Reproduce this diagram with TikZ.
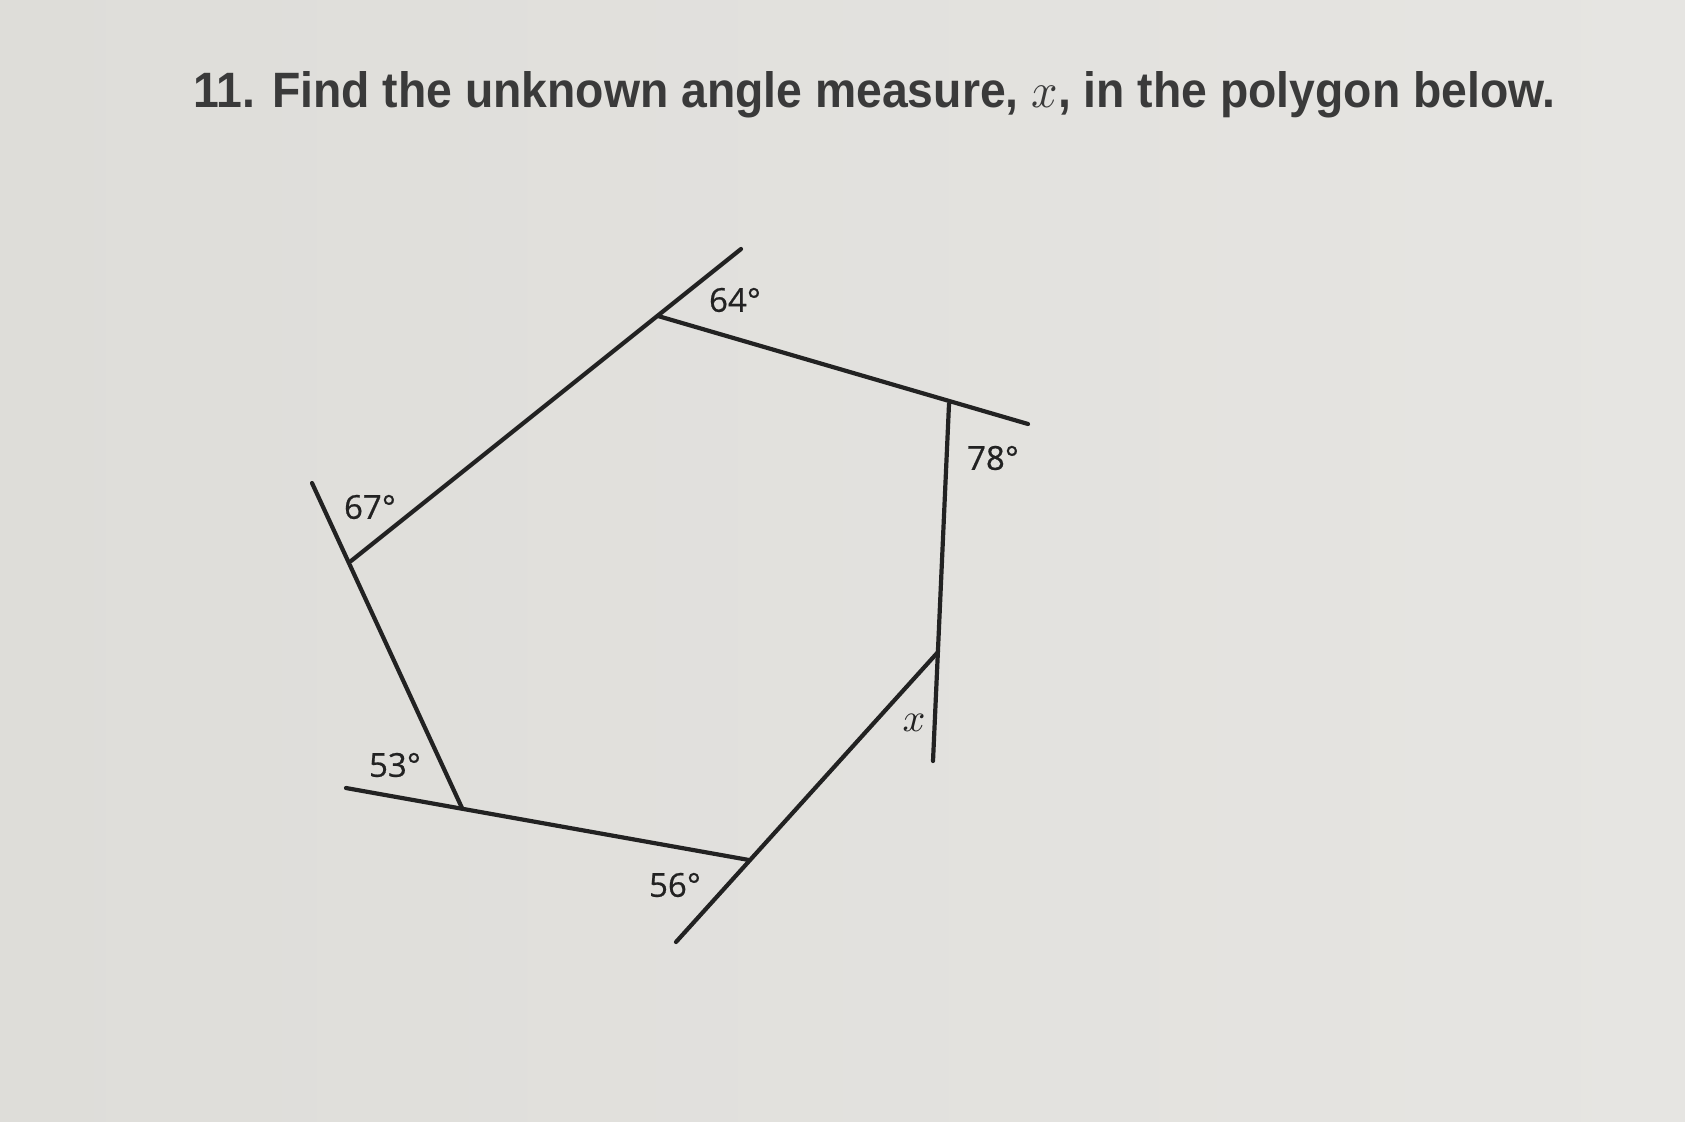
\documentclass[tikz,border=0pt]{standalone}
\usepackage{fontspec}
\setmainfont{Liberation Sans}
\newfontfamily\labfont[FakeBold=0.6]{Open Sans}
\usepackage{graphicx}
\definecolor{paper}{RGB}{222,221,217}
\definecolor{paperlight}{RGB}{230,229,226}
\definecolor{ink}{RGB}{34,34,34}
\definecolor{titleink}{RGB}{58,58,58}
\tikzset{
  side/.style={draw=ink, line width=4.2pt, line cap=round},
  anglab/.style={text=ink, font=\labfont\fontsize{33}{35}\selectfont, inner sep=0pt},
}
\begin{document}
\begin{tikzpicture}[x=1pt,y=-1pt]
\useasboundingbox (0,0) rectangle (1685,1121);
\shade[left color=paper, right color=paperlight] (0,0) rectangle (1685,1121);
% title
\node[anchor=base west, inner sep=0pt, text=titleink] (title) at (193,107)
  {\resizebox{1362pt}{36pt}{\bfseries 11. Find the unknown angle measure, $x$, in the polygon below.}};
% vertices
\coordinate (A) at (658,316);
\coordinate (B) at (949,404);
\coordinate (C) at (938,652);
\coordinate (D) at (749,860);
\coordinate (E) at (462,808);
\coordinate (F) at (351,561);
% extension ends
\coordinate (Ax) at (741,249);
\coordinate (Bx) at (1028,424);
\coordinate (Cx) at (933,761);
\coordinate (Dx) at (676,942);
\coordinate (Ex) at (346,788);
\coordinate (Fx) at (312,483);
% sides with extensions
\draw[side] (F) -- (Ax);
\draw[side] (A) -- (Bx);
\draw[side] (B) -- (Cx);
\draw[side] (C) -- (Dx);
\draw[side] (D) -- (Ex);
\draw[side] (E) -- (Fx);
% labels
\node[anglab] (l64) at (735,300) {64°};
\node[anglab] (l67) at (370,507) {67°};
\node[anglab] (l53) at (395,765) {53°};
\node[anglab] (l56) at (675,885) {56°};
\node[anglab] (l78) at (993,458) {78°};
\node[text=ink, inner sep=0pt] (lx) at (914,723) {\scalebox{4}{$x$}};
\end{tikzpicture}
\end{document}
